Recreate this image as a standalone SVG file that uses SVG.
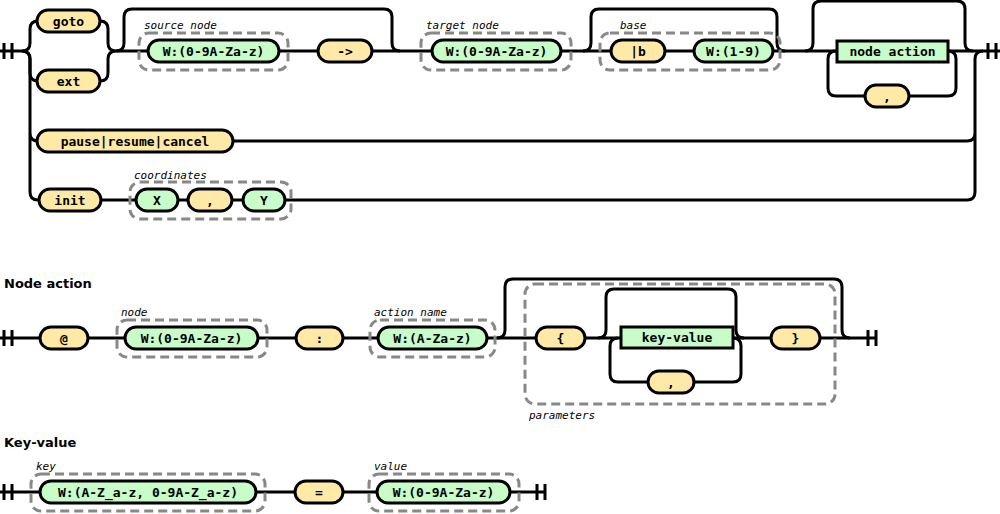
<svg xmlns="http://www.w3.org/2000/svg" width="1000" height="514" viewBox="0 0 1000 514">
<style>
.l{fill:none;stroke:#000;stroke-width:3}
.t{fill:#FEE9A6;stroke:#000;stroke-width:3}
.n{fill:#C8FCC8;stroke:#000;stroke-width:3}
.g{fill:none;stroke:#888;stroke-width:3;stroke-dasharray:9 5}
text{font-family:"DejaVu Sans Mono",monospace;font-size:13px;font-weight:bold;text-anchor:middle;dominant-baseline:central}
text.c{font-size:11px;font-weight:normal;font-style:italic;text-anchor:start;dominant-baseline:auto}
text.h{font-family:"DejaVu Sans",sans-serif;font-size:13px;text-anchor:start;dominant-baseline:auto}
</style>
<rect width="1000" height="514" fill="#fff"/>
<g id="connectors">
<path class="l" d="M0,51H22M116,51H1000"/>
<path class="l" d="M22,51q8,0 8,-8v-14q0,-8 8,-8M100,21q8,0 8,8v14q0,8 8,8M22,51q8,0 8,8v14q0,8 8,8M100,81q8,0 8,-8v-14q0,-8 8,-8"/>
<path class="l" d="M22,51q8,0 8,8v74q0,8 8,8M22,51q8,0 8,8v133q0,8 8,8"/>
<path class="l" d="M116,51q8,0 8,-8v-26q0,-8 8,-8h252q8,0 8,8v26q0,8 8,8"/>
<path class="l" d="M583,51q8,0 8,-8v-26q0,-8 8,-8h170q8,0 8,8v26q0,8 8,8"/>
<path class="l" d="M805,51q8,0 8,-8v-34q0,-8 8,-8h136q8,0 8,8v34q0,8 8,8"/>
<path class="l" d="M948,51q8,0 8,8v29q0,8 -8,8h-112q-8,0 -8,-8v-29q0,-8 8,-8"/>
<path class="l" d="M233,141h734q8,0 8,-8v-74q0,-8 8,-8M101,200h866q8,0 8,-8v-133q0,-8 8,-8"/>
<path class="l" d="M4,43v16M12,43v16M988,43v16M996,43v16"/>
<path class="l" d="M0,338H876"/>
<path class="l" d="M497,338q8,0 8,-8v-43q0,-8 8,-8h321q8,0 8,8v43q0,8 8,8"/>
<path class="l" d="M598,338q8,0 8,-8v-33q0,-8 8,-8h114q8,0 8,8v33q0,8 8,8"/>
<path class="l" d="M733,338q8,0 8,8v28q0,8 -8,8h-115q-8,0 -8,-8v-28q0,-8 8,-8"/>
<path class="l" d="M4,330v16M12,330v16M868,330v16M876,330v16"/>
<path class="l" d="M0,492H545M4,484v16M12,484v16M537,484v16M545,484v16"/>
</g>
<g id="groups">
<rect class="g" x="139" y="33" width="149" height="37" rx="10"/><text class="c" x="144" y="29">source node</text>
<rect class="g" x="421" y="33" width="150" height="37" rx="10"/><text class="c" x="426" y="29">target node</text>
<rect class="g" x="600" y="33" width="180" height="37" rx="10"/><text class="c" x="620" y="29">base</text>
<rect class="g" x="130" y="182" width="161" height="37" rx="10"/><text class="c" x="134" y="179">coordinates</text>
<rect class="g" x="117" y="320" width="150" height="37" rx="10"/><text class="c" x="121" y="316">node</text>
<rect class="g" x="370" y="320" width="125" height="37" rx="10"/><text class="c" x="374" y="316">action name</text>
<rect class="g" x="525" y="284" width="310" height="120" rx="10"/><text class="c" x="529" y="419">parameters</text>
<rect class="g" x="31" y="474" width="234" height="37" rx="10"/><text class="c" x="36" y="470">key</text>
<rect class="g" x="369" y="474" width="150" height="37" rx="10"/><text class="c" x="374" y="470">value</text>
</g>
<g id="goto"><rect class="t" x="37" y="10" width="63" height="22" rx="11"/><text x="68.5" y="21">goto</text></g>
<g id="ext"><rect class="t" x="37" y="70" width="63" height="22" rx="11"/><text x="68.5" y="81">ext</text></g>
<g id="pause"><rect class="t" x="37" y="130" width="196" height="22" rx="11"/><text x="135" y="141">pause|resume|cancel</text></g>
<g id="init"><rect class="t" x="39" y="189" width="62" height="22" rx="11"/><text x="70" y="200">init</text></g>
<g id="x"><rect class="n" x="136" y="189" width="42" height="22" rx="11"/><text x="157" y="200">X</text></g>
<g id="comma1"><rect class="t" x="188" y="189" width="44" height="22" rx="11"/><text x="210" y="200">,</text></g>
<g id="y"><rect class="n" x="243" y="189" width="42" height="22" rx="11"/><text x="264" y="200">Y</text></g>
<g id="source"><rect class="n" x="148" y="40" width="131" height="22" rx="11"/><text x="213.5" y="51">W:(0-9A-Za-z)</text></g>
<g id="arrow"><rect class="t" x="318" y="40" width="54" height="22" rx="11"/><text x="345" y="51">-&gt;</text></g>
<g id="target"><rect class="n" x="432" y="40" width="129" height="22" rx="11"/><text x="496.5" y="51">W:(0-9A-Za-z)</text></g>
<g id="b"><rect class="t" x="611" y="40" width="54" height="22" rx="11"/><text x="638" y="51">|b</text></g>
<g id="w19"><rect class="n" x="694" y="40" width="79" height="22" rx="11"/><text x="733.5" y="51">W:(1-9)</text></g>
<g id="nodeaction"><rect class="n" x="837" y="41" width="111" height="21"/><text x="892.5" y="51.5">node action</text></g>
<g id="comma2"><rect class="t" x="865" y="85" width="44" height="22" rx="11"/><text x="887" y="96">,</text></g>
<text class="h" x="4" y="288" font-weight="bold">Node action</text>
<g id="at"><rect class="t" x="40" y="327" width="48" height="22" rx="11"/><text x="64" y="338">@</text></g>
<g id="node"><rect class="n" x="125" y="327" width="133" height="22" rx="11"/><text x="191.5" y="338">W:(0-9A-Za-z)</text></g>
<g id="colon"><rect class="t" x="296" y="327" width="47" height="22" rx="11"/><text x="319.5" y="338">:</text></g>
<g id="action"><rect class="n" x="378" y="327" width="109" height="22" rx="11"/><text x="432.5" y="338">W:(A-Za-z)</text></g>
<g id="lbrace"><rect class="t" x="536" y="327" width="49" height="22" rx="11"/><text x="560.5" y="338">{</text></g>
<g id="keyvalue"><rect class="n" x="621" y="327" width="112" height="21"/><text x="677" y="337.5">key-value</text></g>
<g id="comma3"><rect class="t" x="648" y="371" width="46" height="22" rx="11"/><text x="671" y="382">,</text></g>
<g id="rbrace"><rect class="t" x="771" y="327" width="49" height="22" rx="11"/><text x="795.5" y="338">}</text></g>
<text class="h" x="4" y="447" font-weight="bold">Key-value</text>
<g id="key"><rect class="n" x="40" y="481" width="216" height="22" rx="11"/><text x="148" y="492">W:(A-Z_a-z, 0-9A-Z_a-z)</text></g>
<g id="eq"><rect class="t" x="295" y="481" width="48" height="22" rx="11"/><text x="319" y="492">=</text></g>
<g id="value"><rect class="n" x="377" y="481" width="133" height="22" rx="11"/><text x="443.5" y="492">W:(0-9A-Za-z)</text></g>
</svg>
